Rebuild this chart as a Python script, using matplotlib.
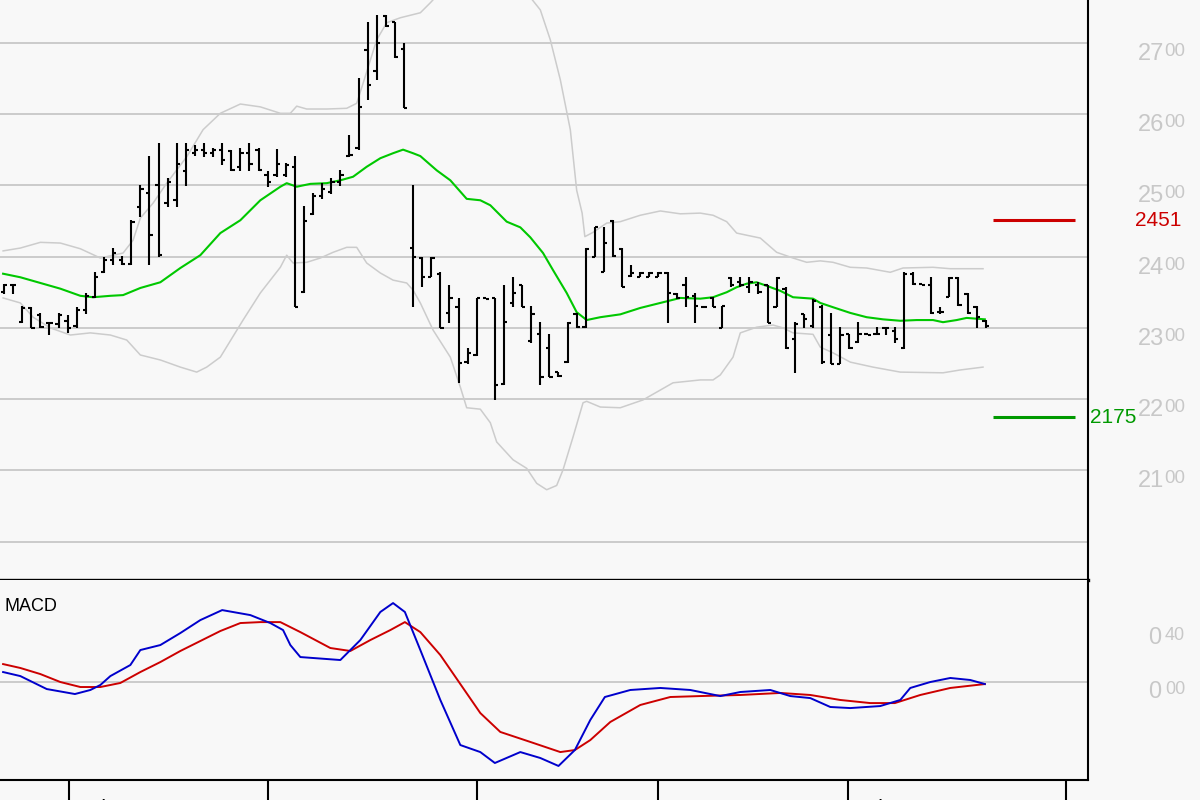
import matplotlib.pyplot as plt

# daily OHLC bars
opens = [
    2350, 2360, 2308, 2328, 2318, 2307, 2305, 2310, 2302, 2325,
    2344, 2378, 2395, 2395, 2390, 2470, 2489, 2500, 2475, 2480,
    2520, 2545, 2550, 2545, 2550, 2548, 2525, 2545, 2550, 2515,
    2515, 2515, 2525, 2350, 2460, 2485, 2490, 2505, 2541, 2552,
    2690, 2660, 2738, 2729, 2691, 2412, 2398, 2372, 2376, 2321,
    2329, 2252, 2262, 2342, 2342, 2222, 2335, 2360, 2282, 2291,
    2272, 2238, 2252, 2320, 2301, 2400, 2378, 2450, 2410, 2373,
    2372, 2372, 2372, 2377, 2348, 2360, 2345, 2330, 2342, 2300,
    2370, 2365, 2357, 2360, 2360, 2330, 2355, 2285, 2319, 2302,
    2330, 2290, 2250, 2291, 2280, 2291, 2291, 2300, 2295, 2272,
    2376, 2361, 2360, 2322, 2343, 2370, 2348, 2330, 2310,
]
highs = [
    2361, 2361, 2331, 2329, 2321, 2308, 2321, 2318, 2329, 2349,
    2378, 2400, 2412, 2401, 2451, 2500, 2541, 2559, 2510, 2559,
    2559, 2556, 2559, 2552, 2559, 2550, 2552, 2559, 2552, 2520,
    2551, 2531, 2541, 2471, 2489, 2503, 2510, 2521, 2571, 2651,
    2729, 2739, 2739, 2729, 2700, 2500, 2400, 2400, 2378, 2360,
    2342, 2272, 2342, 2342, 2342, 2360, 2371, 2360, 2331, 2308,
    2291, 2238, 2308, 2321, 2412, 2442, 2442, 2451, 2412, 2388,
    2378, 2378, 2378, 2378, 2349, 2371, 2349, 2331, 2343, 2331,
    2371, 2371, 2371, 2364, 2360, 2371, 2357, 2308, 2320, 2340,
    2332, 2321, 2301, 2291, 2308, 2291, 2301, 2301, 2301, 2378,
    2378, 2361, 2371, 2329, 2371, 2371, 2349, 2331, 2311,
]
lows = [
    2348, 2348, 2307, 2300, 2300, 2290, 2300, 2293, 2300, 2320,
    2342, 2377, 2388, 2388, 2388, 2456, 2388, 2400, 2470, 2470,
    2499, 2541, 2540, 2540, 2528, 2520, 2520, 2520, 2520, 2498,
    2512, 2512, 2329, 2349, 2458, 2481, 2488, 2499, 2540, 2550,
    2620, 2648, 2722, 2679, 2608, 2329, 2357, 2371, 2300, 2307,
    2223, 2249, 2261, 2341, 2199, 2220, 2329, 2329, 2279, 2220,
    2231, 2231, 2251, 2300, 2300, 2400, 2378, 2400, 2357, 2371,
    2371, 2371, 2371, 2307, 2340, 2329, 2307, 2329, 2329, 2300,
    2357, 2357, 2349, 2348, 2307, 2329, 2270, 2237, 2300, 2300,
    2249, 2249, 2249, 2270, 2279, 2290, 2290, 2290, 2279, 2270,
    2360, 2360, 2320, 2320, 2343, 2331, 2320, 2300, 2300,
]
closes = [
    2360, 2360, 2328, 2300, 2301, 2307, 2318, 2300, 2325, 2345,
    2372, 2395, 2405, 2390, 2448, 2495, 2430, 2402, 2505, 2530,
    2550, 2550, 2545, 2550, 2535, 2521, 2545, 2530, 2521, 2505,
    2530, 2528, 2330, 2450, 2485, 2495, 2505, 2515, 2542, 2610,
    2640, 2700, 2724, 2680, 2609, 2400, 2371, 2398, 2300, 2342,
    2251, 2265, 2342, 2341, 2220, 2308, 2349, 2330, 2320, 2231,
    2231, 2232, 2307, 2301, 2410, 2441, 2419, 2401, 2358, 2377,
    2377, 2377, 2377, 2349, 2342, 2343, 2331, 2330, 2330, 2331,
    2360, 2360, 2365, 2350, 2307, 2370, 2272, 2306, 2312, 2338,
    2252, 2250, 2290, 2272, 2291, 2290, 2292, 2300, 2285, 2376,
    2361, 2360, 2321, 2322, 2370, 2332, 2321, 2315, 2302,
]

# Bollinger bands and moving average, sampled along the bar index
upper_idx = [
    -0.1, 1.8, 4.0, 6.2, 8.4, 10.6, 13.1, 14.2, 15.0, 16.4, 17.9, 20.1,
    21.9, 23.8, 26.0, 28.2, 30.4, 31.5, 32.2, 33.3, 35.5, 37.7, 38.8,
    39.5, 41.0, 42.1, 43.6, 45.8, 46.9, 49.0, 52.0, 55.0, 57.5, 59.0,
    60.1, 61.2, 62.3, 63.0, 63.6, 63.9, 64.8, 66.3, 67.8, 70.0, 72.2,
    74.4, 76.6, 78.0, 79.5, 80.6, 81.7, 83.2, 85.0, 86.8, 88.3, 89.8,
    91.2, 93.1, 94.9, 97.5, 98.9, 102.2, 104.1, 107.7,
]
upper_band = [
    2408, 2412, 2420, 2419, 2411, 2398, 2405, 2423, 2454, 2475, 2503, 2540,
    2578, 2601, 2614, 2610, 2601, 2601, 2611, 2607, 2607, 2608, 2615,
    2643, 2704, 2728, 2735, 2742, 2756, 2785, 2805, 2795, 2770, 2746,
    2704, 2648, 2578, 2493, 2461, 2428, 2434, 2447, 2449, 2458, 2464,
    2460, 2461, 2458, 2449, 2433, 2430, 2426, 2406, 2398, 2392, 2394,
    2392, 2385, 2384, 2378, 2384, 2385, 2383, 2383,
]
lower_idx = [
    -0.1, 1.8, 3.2, 5.1, 7.3, 9.5, 11.7, 13.5, 15.0, 17.2, 19.4, 21.2,
    22.3, 23.8, 26.3, 28.2, 30.4, 31.1, 31.8, 33.3, 34.8, 36.2, 37.7,
    38.8, 39.9, 41.4, 42.8, 44.3, 45.0, 45.8, 47.2, 49.1, 50.2, 50.9,
    52.4, 53.5, 54.2, 56.0, 57.5, 58.6, 59.7, 60.8, 61.5, 62.6, 63.7,
    64.1, 65.6, 67.8, 70.3, 73.6, 76.6, 78.0, 78.8, 80.2, 81.0, 82.8,
    84.6, 85.7, 86.8, 89.0, 89.8, 91.2, 93.1, 95.6, 98.6, 103.3, 105.2,
    107.7,
]
lower_band = [
    2342, 2335, 2315, 2300, 2290, 2293, 2290, 2283, 2262, 2255, 2245, 2238,
    2245, 2259, 2311, 2349, 2385, 2402, 2391, 2392, 2398, 2406, 2413,
    2413, 2391, 2377, 2367, 2363, 2353, 2335, 2297, 2259, 2217, 2188,
    2186, 2167, 2140, 2115, 2103, 2082, 2073, 2079, 2101, 2147, 2195,
    2197, 2189, 2188, 2199, 2223, 2227, 2227, 2234, 2259, 2293, 2301,
    2304, 2300, 2293, 2291, 2273, 2265, 2252, 2245, 2238, 2237, 2241,
    2245,
]
ma_idx = [
    -0.1, 1.8, 4.0, 6.2, 8.4, 9.8, 11.7, 13.1, 15.0, 17.2, 19.4, 21.6,
    23.8, 26.0, 28.2, 30.4, 31.1, 32.2, 33.7, 35.5, 37.0, 38.4, 39.9,
    41.4, 42.8, 43.9, 45.0, 45.8, 47.6, 49.1, 50.9, 52.4, 53.5, 55.3,
    56.8, 57.9, 59.3, 60.4, 61.9, 63.0, 64.1, 65.6, 67.8, 70.0, 72.2,
    74.4, 76.6, 78.0, 79.5, 80.6, 81.7, 82.8, 83.9, 85.4, 86.8, 89.0,
    89.8, 91.2, 93.1, 94.9, 96.7, 98.6, 100.4, 102.2, 103.3, 104.8,
    105.9, 107.9,
]
ma_vals = [
    2376, 2371, 2363, 2355, 2345, 2343, 2345, 2346, 2356, 2364, 2384, 2402,
    2433, 2451, 2479, 2498, 2503, 2498, 2502, 2503, 2507, 2512, 2526,
    2538, 2545, 2550, 2545, 2541, 2521, 2507, 2481, 2479, 2472, 2449,
    2441, 2427, 2405, 2381, 2349, 2322, 2311, 2315, 2319, 2328, 2335,
    2342, 2341, 2343, 2350, 2357, 2362, 2364, 2359, 2352, 2343, 2341,
    2335, 2329, 2321, 2315, 2312, 2310, 2311, 2311, 2308, 2311,
    2314, 2312,
]

# MACD panel
macd_idx = [
    -0.1, 1.8, 4.7, 7.8, 9.5, 10.6, 11.7, 13.9, 15.0, 17.2, 19.4, 21.6,
    24.0, 27.1, 29.3, 30.7, 31.5, 32.6, 37.0, 39.2, 41.4, 42.8, 44.1,
    45.8, 48.0, 50.2, 52.4, 54.0, 56.8, 59.0, 61.0, 62.8, 64.5, 66.1,
    68.9, 72.2, 75.5, 78.8, 81.0, 84.3, 86.5, 88.7, 90.9, 93.1, 96.4,
    98.6, 99.7, 101.9, 104.1, 106.3, 107.9,
]
macd_vals = [
    0.074, 0.044, -0.052, -0.089, -0.059, -0.022, 0.044, 0.126, 0.237,
    0.274, 0.363, 0.459, 0.533, 0.496, 0.437, 0.385, 0.274, 0.185, 0.163,
    0.311, 0.519, 0.585, 0.519, 0.237, -0.133, -0.467, -0.519, -0.600,
    -0.519, -0.563, -0.622, -0.504, -0.281, -0.111, -0.059, -0.044,
    -0.059, -0.104, -0.074, -0.059, -0.104, -0.119, -0.185, -0.193,
    -0.178, -0.133, -0.044, 0.000, 0.030, 0.015, -0.015,
]
signal_idx = [
    -0.1, 1.8, 4.0, 6.2, 8.4, 10.6, 12.8, 15.0, 17.2, 19.4, 21.6, 23.8,
    26.0, 28.2, 30.4, 31.5, 32.6, 35.9, 38.1, 40.3, 42.5, 44.1, 45.8,
    48.0, 50.2, 52.4, 54.6, 57.9, 61.2, 62.8, 64.5, 66.7, 70.0, 73.3,
    76.6, 81.0, 85.4, 88.7, 92.0, 95.3, 98.0, 100.8, 104.1, 107.9,
]
signal_vals = [
    0.133, 0.104, 0.059, 0.000, -0.037, -0.037, -0.007, 0.074, 0.148,
    0.230, 0.304, 0.378, 0.437, 0.444, 0.444, 0.407, 0.370, 0.252, 0.230,
    0.311, 0.385, 0.444, 0.370, 0.200, -0.015, -0.230, -0.370, -0.444,
    -0.519, -0.504, -0.430, -0.296, -0.170, -0.111, -0.104, -0.096,
    -0.081, -0.096, -0.133, -0.156, -0.156, -0.096, -0.044, -0.015,
]

resistance = 2451
support = 2175
grid_levels = [2000, 2100, 2200, 2300, 2400, 2500, 2600, 2700]
price_labels = [2100, 2200, 2300, 2400, 2500, 2600, 2700]
macd_labels = [0.0, 0.4]
month_ticks = [7.15, 29.0, 52.0, 71.9, 92.9, 116.8]
month_names = ["Feb", "Apr", "May", "Jun", "Jul", "Aug"]

bg = "#f8f8f8"
grid_c = "#c8c8c8"
font = "Liberation Sans"

fig = plt.figure(figsize=(12, 8), dpi=100, facecolor=bg)
ax1 = fig.add_axes([0, 220 / 800, 1088 / 1200, 580 / 800], facecolor=bg)
ax2 = fig.add_axes([0, 20 / 800, 1088 / 1200, 200 / 800], facecolor=bg)

for ax in (ax1, ax2):
    ax.set_xlim(-0.44, 119.25)
    ax.tick_params(left=False, right=False, labelleft=False, bottom=False, labelbottom=False)
    ax.spines["left"].set_visible(False)
    ax.spines["top"].set_visible(False)
    ax.spines["right"].set_linewidth(1.5)

ax1.set_ylim(1946.4, 2759.9)
ax1.spines["bottom"].set_linewidth(2.4)
ax2.set_ylim(-0.726, 0.756)
ax2.spines["bottom"].set_linewidth(1.5)

# grid
for lv in grid_levels:
    ax1.axhline(lv, color=grid_c, lw=1.3, zorder=1)
ax2.axhline(0, color=grid_c, lw=1.3, zorder=1)

# bands + average
ax1.plot(upper_idx, upper_band, color="#cccccc", lw=1.1, zorder=2)
ax1.plot(lower_idx, lower_band, color="#cccccc", lw=1.1, zorder=2)
ax1.plot(ma_idx, ma_vals, color="#00c800", lw=1.5, zorder=3)

# OHLC bars
idx = list(range(len(opens)))
ax1.vlines(idx, lows, highs, color="black", lw=1.5, zorder=4)
ax1.hlines(opens, [i - 0.36 for i in idx], idx, color="black", lw=1.5, zorder=4)
ax1.hlines(closes, idx, [i + 0.36 for i in idx], color="black", lw=1.5, zorder=4)

# support / resistance markers
tr = ax1.get_yaxis_transform()
ax1.plot([993 / 1088, 1075 / 1088], [resistance] * 2, color="#cc0000", lw=2.2,
         transform=tr, clip_on=False, solid_capstyle="butt")
ax1.plot([993 / 1088, 1075 / 1088], [support] * 2, color="#009900", lw=2.2,
         transform=tr, clip_on=False, solid_capstyle="butt")
ax1.text(1135 / 1088, resistance, str(resistance), color="#cc0000", fontsize=15,
         family=font, ha="left", va="center", transform=tr, clip_on=False)
ax1.text(1090 / 1088, support, str(support), color="#009900", fontsize=15,
         family=font, ha="left", va="center", transform=tr, clip_on=False)

# right-hand price labels (big hundreds, small last digits)
for p in price_labels:
    s = str(p)
    ax1.text(1185 / 1088, p, s[2:], color=grid_c, fontsize=13.5, family=font,
             ha="right", va="top", transform=tr, clip_on=False)
    ax1.text(1164 / 1088, p, s[:2], color=grid_c, fontsize=17, family=font,
             ha="right", va="top", transform=tr, clip_on=False)

# MACD
ax2.plot(signal_idx, signal_vals, color="#cc0000", lw=1.4, zorder=3)
ax2.plot(macd_idx, macd_vals, color="#0000cc", lw=1.4, zorder=4)
tr2 = ax2.get_yaxis_transform()
for v in macd_labels:
    s = f"{v:.2f}"
    ax2.text(1185 / 1088, v + 0.008, s[2:], color=grid_c, fontsize=13, family=font,
             ha="right", va="top", transform=tr2, clip_on=False)
    ax2.text(1161 / 1088, v + 0.008, s[0], color=grid_c, fontsize=17, family=font,
             ha="right", va="top", transform=tr2, clip_on=False)
fig.text(5 / 1200, 1 - 598 / 800, "MACD", fontsize=13, family=font, color="black",
         ha="left", va="top")

# month ticks below the MACD panel (labels are cut off by the frame, as in the source)
ax2.set_xticks(month_ticks)
ax2.tick_params(bottom=True, direction="out", length=14.5, width=1.5, color="black")
for t, name in zip(month_ticks, month_names):
    xpx = 4 + 9.09 * t
    fig.text((xpx + 8) / 1200, 1 / 800, name, fontsize=15, family=font,
             ha="left", va="top")

fig.savefig("out.png", dpi=100, facecolor=bg)
